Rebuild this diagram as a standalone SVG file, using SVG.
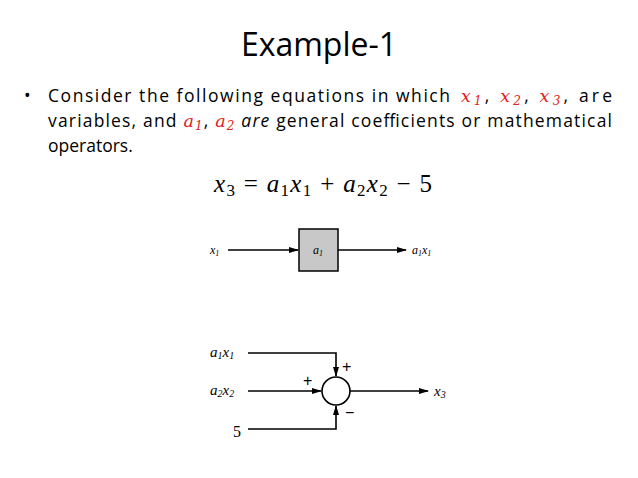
<svg xmlns="http://www.w3.org/2000/svg" width="638" height="478" viewBox="0 0 638 478">
<style>
.t{font-family:"Open Sans","Liberation Sans",sans-serif;font-size:17.5px;fill:#000}
.r{fill:#e02020;font-family:"DejaVu Serif","Liberation Serif",serif;font-style:italic}
.m{font-family:"Liberation Serif",serif;font-style:italic;fill:#000}
.ln{stroke:#000;stroke-width:1.6;fill:none}
</style>
<defs><marker id="a" markerWidth="10" markerHeight="6" refX="9" refY="3" orient="auto" markerUnits="userSpaceOnUse"><path d="M0,0L10,3L0,6z" fill="#000"/></marker></defs>
<rect width="638" height="478" fill="#fff"/>
<text x="319" y="56" text-anchor="middle" font-family="Open Sans,Liberation Sans,sans-serif" font-size="32">Example-1</text>
<text class="t" x="24" y="102">•</text>
<text class="t" x="48" y="102" textLength="402" lengthAdjust="spacing">Consider the following equations in which</text>
<text class="t" x="461" y="102" textLength="151" lengthAdjust="spacing"><tspan class="r">x</tspan><tspan class="r" font-size="12" dy="3">1</tspan><tspan dy="-3">, </tspan><tspan class="r">x</tspan><tspan class="r" font-size="12" dy="3">2</tspan><tspan dy="-3">, </tspan><tspan class="r">x</tspan><tspan class="r" font-size="12" dy="3">3</tspan><tspan dy="-3">, are</tspan></text>
<text class="t" x="48" y="127" textLength="564" lengthAdjust="spacing">variables, and <tspan class="r">a</tspan><tspan class="r" font-size="12" dy="3">1</tspan><tspan dy="-3">, </tspan><tspan class="r">a</tspan><tspan class="r" font-size="12" dy="3">2</tspan><tspan dy="-3" font-style="italic"> are</tspan> general coefficients or mathematical</text>
<text class="t" x="48" y="152">operators.</text>
<text class="m" x="214" y="192" font-size="25" textLength="218" lengthAdjust="spacing">x<tspan font-size="17" dy="4" font-style="normal">3</tspan><tspan dy="-4" font-style="normal"> = </tspan>a<tspan font-size="17" dy="4" font-style="normal">1</tspan><tspan dy="-4">x</tspan><tspan font-size="17" dy="4" font-style="normal">1</tspan><tspan dy="-4" font-style="normal"> + </tspan>a<tspan font-size="17" dy="4" font-style="normal">2</tspan><tspan dy="-4">x</tspan><tspan font-size="17" dy="4" font-style="normal">2</tspan><tspan dy="-4" font-style="normal"> − 5</tspan></text>
<g id="block"><rect x="299" y="229" width="39" height="42" fill="#c8c8c8" stroke="#000" stroke-width="1.5"/><text class="m" x="313" y="254" font-size="12">a<tspan font-size="8" dy="2">1</tspan></text></g>
<g id="in1"><text class="m" x="210" y="254" font-size="12">x<tspan font-size="8" dy="2">1</tspan></text></g>
<g id="out1"><text class="m" x="412" y="254" font-size="12">a<tspan font-size="8" dy="2">1</tspan><tspan dy="-2">x</tspan><tspan font-size="8" dy="2">1</tspan></text></g>
<g id="sum"><circle cx="336" cy="391" r="14" fill="#fff" stroke="#000" stroke-width="1.6"/>
<text class="m" x="210" y="357" font-size="15">a<tspan font-size="10" dy="2">1</tspan><tspan dy="-2">x</tspan><tspan font-size="10" dy="2">1</tspan></text>
<text class="m" x="210" y="395" font-size="15">a<tspan font-size="10" dy="2">2</tspan><tspan dy="-2">x</tspan><tspan font-size="10" dy="2">2</tspan></text>
<text x="233" y="437" font-family="Liberation Serif,serif" font-size="16">5</text>
<text class="m" x="434" y="396" font-size="15">x<tspan font-size="10" dy="2">3</tspan></text>
<text x="342" y="372" font-family="Liberation Sans,sans-serif" font-size="16">+</text>
<text x="303" y="386" font-family="Liberation Sans,sans-serif" font-size="16">+</text>
<text x="345" y="418" font-family="Liberation Sans,sans-serif" font-size="16">−</text></g>
<g id="connectors">
<line class="ln" x1="228" y1="250" x2="298" y2="250" marker-end="url(#a)"/>
<line class="ln" x1="338" y1="250" x2="406" y2="250" marker-end="url(#a)"/>
<polyline class="ln" points="248,353 336,353 336,376" marker-end="url(#a)"/>
<line class="ln" x1="248" y1="391" x2="321" y2="391" marker-end="url(#a)"/>
<polyline class="ln" points="248,429 336,429 336,406" marker-end="url(#a)"/>
<line class="ln" x1="350" y1="391" x2="428" y2="391" marker-end="url(#a)"/>
</g>
</svg>
